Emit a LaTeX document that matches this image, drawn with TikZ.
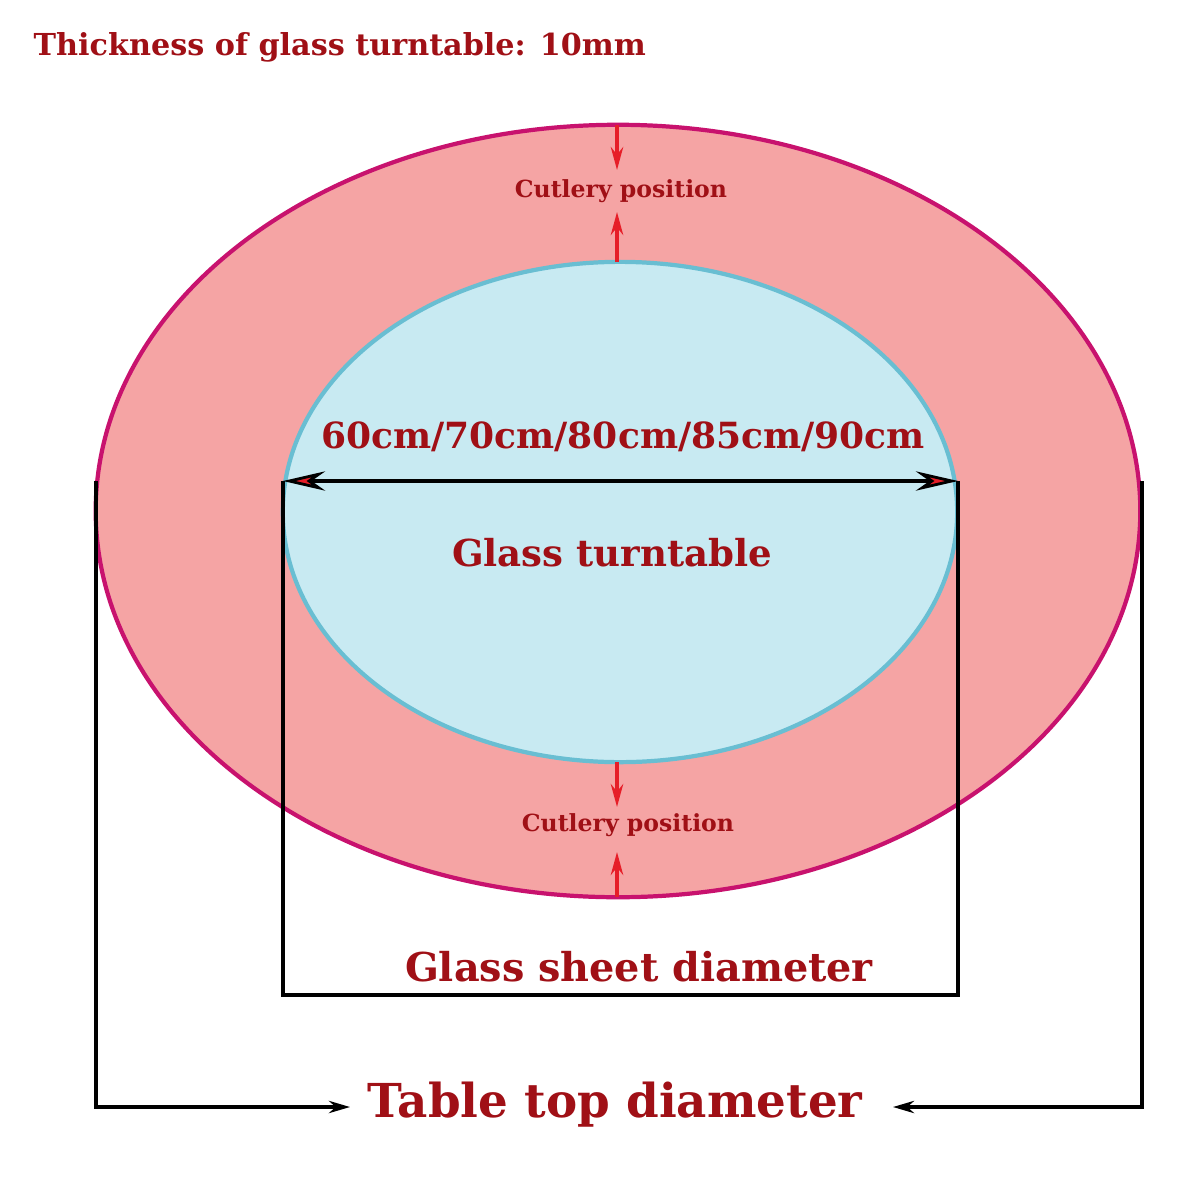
\documentclass[tikz,border=0pt]{standalone}
\usepackage{fontspec}
\setmainfont{DejaVu Serif}
\usetikzlibrary{arrows.meta}
\definecolor{textred}{RGB}{160,16,22}
\definecolor{tablepink}{RGB}{245,164,164}
\definecolor{tablerim}{RGB}{200,18,110}
\definecolor{glassblue}{RGB}{200,234,242}
\definecolor{glassrim}{RGB}{105,190,210}
\definecolor{cutred}{RGB}{230,30,40}
\def\fsz#1{\fontsize{#1}{#1}\selectfont\bfseries}
\tikzset{
  redtext/.style={text=textred,inner sep=0pt},
  cutarrow/.style={cutred,line width=1pt,-{Stealth[length=6.5pt,width=3.5pt]}},
  dimline/.style={black,line width=0.9pt},
  dimtip/.tip={Stealth[length=12pt,width=5.5pt,fill=cutred,line width=0.8pt]},
}
\begin{document}
\begin{tikzpicture}[x=0.01cm,y=-0.01cm]
  \useasboundingbox (0,0) rectangle (1200,1200);
  \fill[white] (0,0) rectangle (1200,1200);
  \filldraw[fill=tablepink,draw=tablerim,line width=1.2pt] (618,511) ellipse [x radius=5.22cm,y radius=3.86cm];
  \filldraw[fill=glassblue,draw=glassrim,line width=1.2pt] (620,512) ellipse [x radius=3.37cm,y radius=2.5cm];

  \node[redtext,anchor=west] (thick) at (33,47) {\fsz{8.6}Thickness of glass turntable: 10mm};
  \node[redtext] (cuttop) at (621,191) {\fsz{6.7}Cutlery position};
  \node[redtext] (cutbot) at (628,825) {\fsz{6.7}Cutlery position};
  \node[redtext] (sizes) at (623,437) {\fsz{10.25}60cm/70cm/80cm/85cm/90cm};
  \node[redtext] (glass) at (612,553) {\fsz{10.55}Glass turntable};
  \node[redtext] (sheet) at (639,967) {\fsz{11.3}Glass sheet diameter};
  \node[redtext] (tabletop) at (615,1105) {\fsz{13.3}Table top diameter};

  \coordinate (otop) at (617,125);  \coordinate (ctop) at (617,170);
  \coordinate (itop) at (617,262);  \coordinate (ctopb) at (617,212);
  \coordinate (ibot) at (617,762);  \coordinate (cbot) at (617,807);
  \coordinate (obot) at (617,897);  \coordinate (cbotb) at (617,852);
  \draw[cutarrow] (otop) -- (ctop);
  \draw[cutarrow] (itop) -- (ctopb);
  \draw[cutarrow] (ibot) -- (cbot);
  \draw[cutarrow] (obot) -- (cbotb);

  \coordinate (gl) at (283,481);  \coordinate (gr) at (958,481);
  \coordinate (gbl) at (283,995); \coordinate (gbr) at (958,995);
  \draw[dimline] (gl) -- (gbl) -- (gbr) -- (gr);
  \draw[dimline,dimtip-dimtip] (gl) -- (gr);

  \coordinate (tl) at (96,481);   \coordinate (tlb) at (96,1107);  \coordinate (ta) at (350,1107);
  \coordinate (tr) at (1142,481); \coordinate (trb) at (1142,1107); \coordinate (tb) at (893,1107);
  \draw[dimline,-{Stealth[length=6pt,width=3.5pt]}] (tl) -- (tlb) -- (ta);
  \draw[dimline,-{Stealth[length=6pt,width=3.5pt]}] (tr) -- (trb) -- (tb);
\end{tikzpicture}
\end{document}
